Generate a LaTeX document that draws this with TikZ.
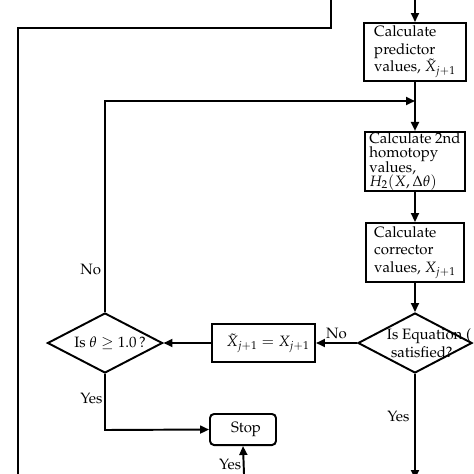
\documentclass[tikz,border=0pt]{standalone}
\usepackage[T1]{fontenc}
\usepackage{mathpazo}
\usepackage{amsmath}
\usetikzlibrary{arrows.meta,shapes.geometric}

\begin{document}
\begin{tikzpicture}[x=0.6667pt,y=-0.6667pt,>={Triangle[length=6pt,width=5.3pt]},line width=1.3pt,
  every node/.style={font=\fontsize{10pt}{11.7pt}\selectfont},
  procbox/.style={draw, rectangle, align=left, inner sep=1.3pt},
  decision/.style={draw, diamond, inner sep=0pt},
  stopbox/.style={draw, rectangle, rounded corners=2.7pt}]
  \useasboundingbox (0,0) rectangle (474,474);
  \clip (0,0) rectangle (474,474);
  \fill[white] (0,0) rectangle (474,474);

  % Process boxes
  \node[procbox, minimum width=68pt, minimum height=38.7pt] (pred) at (415,52)
  {Calculate\\predictor\\values, $\tilde{X}_{j+1}$};
  \node[procbox, minimum width=66.7pt, minimum height=39.3pt, inner sep=0.7pt] (homot) at (415,161.5)
  {Calculate 2nd\\[-2.3pt]homotopy\\[-2.3pt]values,\\[-2.3pt]$H_2(X,\Delta\theta)$};
  \node[procbox, minimum width=65.3pt, minimum height=39.3pt] (corr) at (415,252.5)
  {Calculate\\corrector\\values, $X_{j+1}$};

  % Decisions
  \node[decision, minimum width=76pt, minimum height=40pt] (eq) at (415,343) {};
  \node[right, align=left, inner sep=0pt] (eqtext) at (386,343) {Is Equation (\\\hspace{2.7pt}satisfied?};
  \node[procbox, minimum width=68.7pt, minimum height=25.3pt] (upd) at (263.5,343)
  {\hspace{6pt}$\tilde{X}_{j+1} = X_{j+1}$};
  \node[decision, minimum width=76.7pt, minimum height=40pt] (theta) at (105,343) {};
  \node (thetatext) at (110,343) {Is $\theta \geq 1.0$\,?};

  % Stop
  \node[stopbox, minimum width=44pt, minimum height=20.7pt] (stop) at (243,429.5) {\hspace{4pt}Stop};

  % Free ends
  \coordinate (inA) at (331,0);
  \coordinate (bendA) at (331,28);
  \coordinate (bendB) at (18,28);
  \coordinate (outA) at (18,474);
  \coordinate (inB) at (415,0);
  \coordinate (join) at (415,101);
  \coordinate (bendC) at (105,430);
  \coordinate (inC) at (244,474);
  \coordinate (outB) at (415,479);

  % Connectors
  \draw (inA) -- (bendA) -- (bendB) -- (outA);
  \draw[->] (inB) -- (pred);
  \draw[->] (pred) -- (homot);
  \draw[->] (theta.north) -- node[pos=0.2, left, inner sep=2pt] {No} (theta.north |- join) -- (join);
  \draw[->] (homot) -- (corr);
  \draw[->] (corr) -- (eq);
  \draw[->] (eq.west) -- node[above, inner sep=2pt] {No} (upd.east);
  \draw[->] (upd.west) -- (theta.east);
  \draw[->] (theta.south) -- node[pos=0.44, left, inner sep=1pt] {Yes} (bendC) -- (stop.west);
  \draw[->] (inC) -- node[pos=0.35, left, inner sep=1pt] {Yes} (stop.south);
  \draw[->] (eq.south) -- node[pos=0.4, left, inner sep=3pt] {Yes} (outB);
\end{tikzpicture}
\end{document}
